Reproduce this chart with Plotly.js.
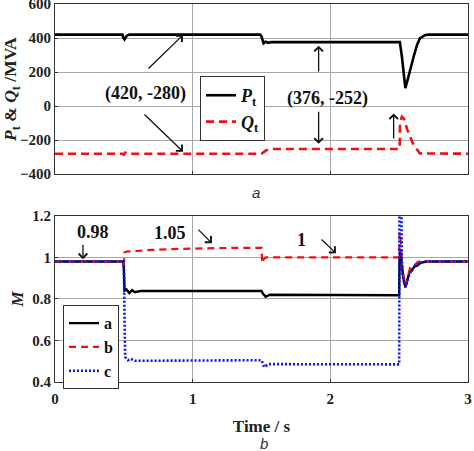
<!DOCTYPE html>
<html>
<head>
<meta charset="utf-8">
<script src="https://cdn.plot.ly/plotly-3.0.1.min.js"></script>
<style>
  html, body { margin: 0; padding: 0; background: #fff; }
  #chart { width: 474px; height: 451px; }
</style>
</head>
<body>
<div id="chart"></div>
<script>
// ---- Panel a: terminal active / reactive power (MVA) ----
const tP = [0, 0.49, 0.495, 0.505, 0.52, 0.54, 0.56, 1.0, 1.49, 1.5, 1.515, 1.53, 1.55, 1.57, 1.6, 2.0, 2.505, 2.52, 2.535, 2.545, 2.56, 2.58, 2.605, 2.63, 2.65, 2.69, 2.72, 3.0];
const P  = [420, 420, 405, 392, 412, 421, 420, 420, 420, 410, 369, 378, 372, 377, 376, 376, 376, 290, 150, 105, 150, 220, 290, 360, 398, 418, 420, 420];

const tQ = [0, 0.49, 0.5, 0.51, 0.52, 1.49, 1.5, 1.53, 1.56, 2.0, 2.504, 2.506, 2.52, 2.535, 2.56, 2.6, 2.65, 3.0];
const Q  = [-280, -280, -286, -274, -280, -280, -280, -262, -252, -252, -252, -95, -62, -75, -140, -220, -278, -280];

// ---- Panel b: modulation index M of the three legs ----
const tA = [0, 0.495, 0.5, 0.505, 0.52, 0.54, 0.56, 0.58, 0.62, 1.0, 1.5, 1.51, 1.53, 1.56, 2.0, 2.5, 2.503, 2.51, 2.52, 2.53, 2.545, 2.56, 2.575, 2.59, 2.61, 2.63, 2.66, 2.7, 3.0];
const A  = [0.98, 0.98, 0.95, 0.84, 0.845, 0.828, 0.842, 0.832, 0.838, 0.838, 0.838, 0.826, 0.81, 0.82, 0.818, 0.818, 0.99, 1.04, 0.96, 0.9, 0.855, 0.89, 0.93, 0.935, 0.955, 0.96, 0.975, 0.98, 0.98];

const tB = [0, 0.495, 0.5, 0.505, 0.52, 0.56, 0.7, 0.9, 1.1, 1.3, 1.5, 1.505, 1.515, 1.53, 2.0, 2.5, 2.503, 2.51, 2.52, 2.53, 2.545, 2.56, 2.58, 2.6, 2.63, 2.66, 2.7, 3.0];
const B  = [0.98, 0.98, 0.962, 1.025, 1.028, 1.03, 1.036, 1.041, 1.045, 1.046, 1.046, 0.972, 0.99, 1.0, 1.0, 1.0, 1.12, 1.09, 0.98, 0.92, 0.865, 0.9, 0.95, 0.955, 0.975, 0.985, 0.98, 0.98];

const tC = [0, 0.495, 0.5, 0.505, 0.51, 0.53, 0.55, 0.58, 1.0, 1.5, 1.51, 1.52, 1.55, 2.0, 2.5, 2.502, 2.515, 2.52, 2.535, 2.55, 2.57, 2.59, 2.62, 2.66, 2.7, 3.0];
const C  = [0.98, 0.98, 0.98, 0.7, 0.52, 0.505, 0.512, 0.502, 0.505, 0.505, 0.49, 0.472, 0.486, 0.485, 0.485, 1.35, 1.35, 0.93, 0.88, 0.86, 0.91, 0.94, 0.965, 0.975, 0.98, 0.98];

const serif = 'Liberation Serif, Times New Roman, serif';
const red = '#f01010';
const blue = '#0a14f0';

const traces = [
  { x: tP, y: P, name: '<i>P</i><sub>t</sub>', mode: 'lines', xaxis: 'x', yaxis: 'y', legend: 'legend',
    line: { color: '#000', width: 2.6 } },
  { x: tQ, y: Q, name: '<i>Q</i><sub>t</sub>', mode: 'lines', xaxis: 'x', yaxis: 'y', legend: 'legend',
    line: { color: red, width: 2.6, dash: '8px,5px' } },
  { x: tA, y: A, name: 'a', mode: 'lines', xaxis: 'x2', yaxis: 'y2', legend: 'legend2',
    line: { color: '#000', width: 2.4 } },
  { x: tB, y: B, name: 'b', mode: 'lines', xaxis: 'x2', yaxis: 'y2', legend: 'legend2',
    line: { color: red, width: 2.2, dash: '7px,5px' } },
  { x: tC, y: C, name: 'c', mode: 'lines', xaxis: 'x2', yaxis: 'y2', legend: 'legend2',
    line: { color: blue, width: 2.6, dash: '2px,2px' } }
];

const tickFont = { family: serif, size: 15, color: '#222', weight: 700 };
const axisCommon = {
  showline: true, mirror: true, linecolor: '#333', linewidth: 1,
  showgrid: true, gridcolor: '#a8a8a8', gridwidth: 1,
  zeroline: false, ticks: 'inside', ticklen: 3, tickcolor: '#333',
  tickfont: tickFont, automargin: false, ticklabeloverflow: 'allow'
};

const annFont = { family: serif, size: 18, color: '#111', weight: 700 };

// pointer arrows drawn from tail (ax, ay) to head (x, y) in data units
function arrow(xr, yr, ax, ay, x, y) {
  return { xref: xr, yref: yr, axref: xr, ayref: yr, x: x, y: y, ax: ax, ay: ay,
    text: '', showarrow: true, arrowhead: 4, arrowsize: 1.3, arrowwidth: 1.3,
    arrowcolor: '#111', standoff: 0, startstandoff: 0 };
}
function label(xr, yr, x, y, txt) {
  return { xref: xr, yref: yr, x: x, y: y, text: txt, showarrow: false, font: annFont };
}

const captionFont = { family: 'Liberation Sans, Arial, sans-serif', size: 15, color: '#333' };

const annotations = [
  label('x', 'y', 0.654, 76, '(420, -280)'),
  arrow('x', 'y', 0.668, 212, 0.93, 418),
  arrow('x', 'y', 0.639, -41, 0.93, -268),
  label('x', 'y', 1.976, 47, '(376, -252)'),
  arrow('x', 'y', 1.915, 194, 1.915, 355),
  arrow('x', 'y', 1.915, -24, 1.915, -222),
  arrow('x', 'y', 2.46, -200, 2.46, -43),
  label('x2', 'y2', 0.276, 1.121, '0.98'),
  arrow('x2', 'y2', 0.203, 1.068, 0.203, 0.991),
  label('x2', 'y2', 0.835, 1.117, '1.05'),
  arrow('x2', 'y2', 1.031, 1.141, 1.14, 1.068),
  label('x2', 'y2', 1.794, 1.083, '1'),
  arrow('x2', 'y2', 1.925, 1.093, 2.041, 1.02),
  { xref: 'paper', yref: 'paper', x: 0.487, y: 0.5023, xanchor: 'center', yanchor: 'middle',
    text: '<i>a</i>', showarrow: false, font: captionFont },
  { xref: 'paper', yref: 'paper', x: 0.506, y: -0.162, xanchor: 'center', yanchor: 'middle',
    text: '<i>b</i>', showarrow: false, font: captionFont }
];

const legendCommon = {
  bgcolor: '#fff', bordercolor: '#333', borderwidth: 1,
  xanchor: 'left', yanchor: 'top', tracegroupgap: 0
};

const layout = {
  width: 474, height: 451,
  margin: { l: 55, r: 6, t: 4, b: 69.3 },
  paper_bgcolor: '#fff', plot_bgcolor: '#fff',
  showlegend: true,
  xaxis: Object.assign({}, axisCommon, {
    domain: [0, 1], range: [0, 3], tickvals: [0, 1, 2, 3], showticklabels: false, anchor: 'y'
  }),
  yaxis: Object.assign({}, axisCommon, {
    domain: [0.5499, 1], range: [-400, 600], tickvals: [-400, -200, 0, 200, 400, 600], anchor: 'x',
    title: { text: '<i>P</i><sub>t</sub> &amp; <i>Q</i><sub>t</sub> /MVA', standoff: 6,
      font: { family: serif, size: 17.5, color: '#222', weight: 700 } }
  }),
  xaxis2: Object.assign({}, axisCommon, {
    domain: [0, 1], range: [0, 3], tickvals: [0, 1, 2, 3], anchor: 'y2', ticklabelstandoff: 3,
    title: { text: 'Time / s', standoff: 14, font: { family: serif, size: 17, color: '#222', weight: 700 } }
  }),
  yaxis2: Object.assign({}, axisCommon, {
    domain: [0, 0.4395], range: [0.4, 1.2], tickvals: [0.4, 0.6, 0.8, 1, 1.2], anchor: 'x2',
    title: { text: '<i>M</i>', standoff: 4, font: { family: serif, size: 17, color: '#222', weight: 700 } }
  }),
  legend: Object.assign({}, legendCommon, { x: 0.351, y: 0.8094,
    font: { family: serif, size: 18, color: '#111', weight: 700 } }),
  legend2: Object.assign({}, legendCommon, { x: 0.0194, y: 0.2031,
    font: { family: serif, size: 16, color: '#111', weight: 700 } }),
  annotations: annotations
};

Plotly.newPlot('chart', traces, layout, { staticPlot: true, displayModeBar: false });
</script>
</body>
</html>
